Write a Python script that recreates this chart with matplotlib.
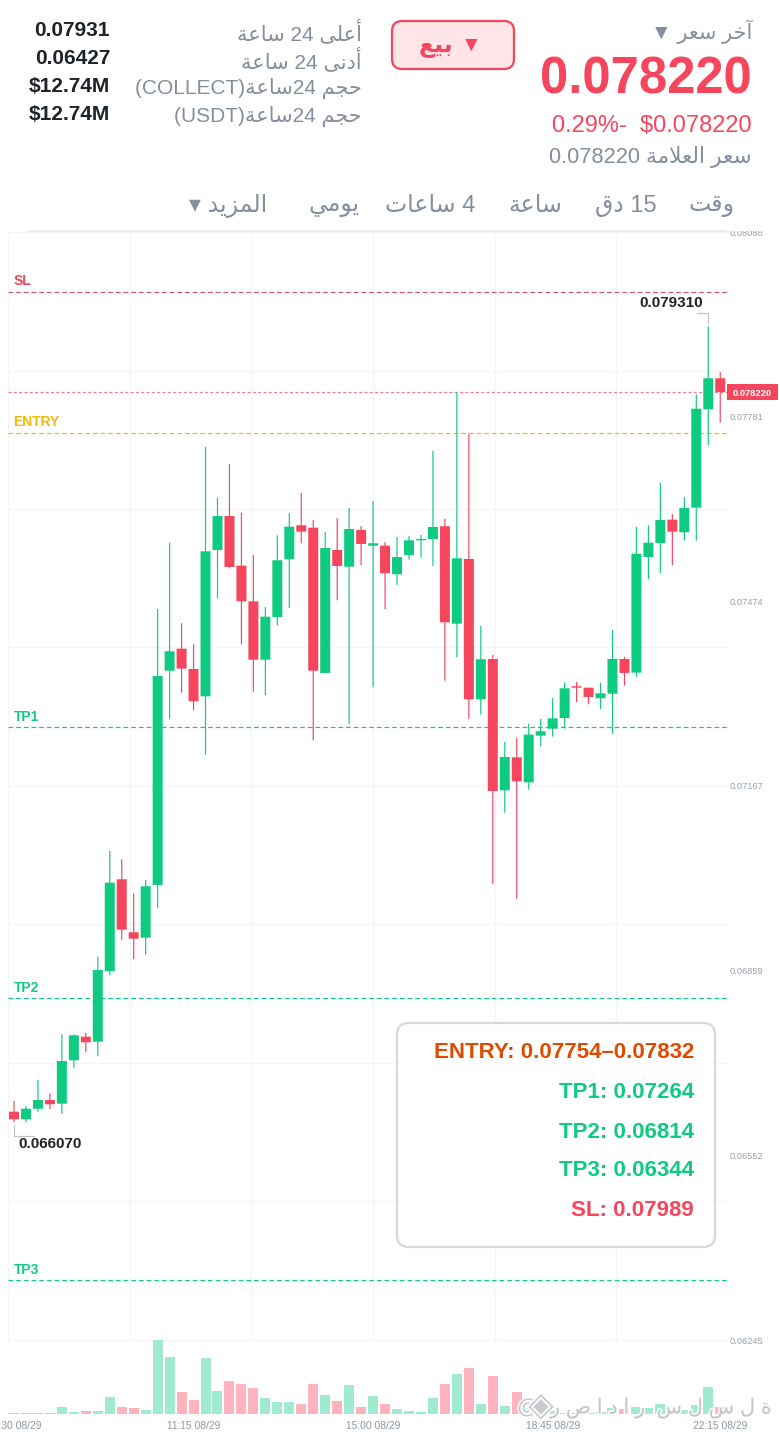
import re

import matplotlib
matplotlib.use("Agg")
import matplotlib.pyplot as plt
import matplotlib.patheffects as pe
from matplotlib.patches import FancyBboxPatch, Rectangle
from matplotlib.transforms import Bbox
import numpy as np

W, H = 780, 1432
GREEN = "#0ECB81"
RED = "#F6465D"
AMBER = "#F0B90B"
GREY = "#848E9C"
DARK = "#1E2329"
GRID = "#F4F5F6"

# 15 min candles, one value per candle
opens = [0.066248, 0.066121, 0.066297, 0.066442, 0.066381, 0.067102, 0.067495, 0.067412, 0.068583, 0.070113,
         0.069232, 0.069142, 0.070019, 0.073583, 0.073949, 0.073611, 0.073157, 0.075591, 0.076156, 0.075330,
         0.074737, 0.073766, 0.074476, 0.075436, 0.076002, 0.075962, 0.073545, 0.075591, 0.075313, 0.075924,
         0.075662, 0.075662, 0.075187, 0.075508, 0.075752, 0.075774, 0.075985, 0.074365, 0.075441, 0.073107,
         0.073778, 0.071594, 0.072143, 0.071727, 0.072502, 0.072618, 0.072796, 0.073324, 0.073300, 0.073124,
         0.073201, 0.073778, 0.073550, 0.075474, 0.075707, 0.076095, 0.075885, 0.076295, 0.077931, 0.078447]
highs = [0.066426, 0.066337, 0.066775, 0.066554, 0.067535, 0.067535, 0.067557, 0.068826, 0.070584, 0.070446,
         0.069880, 0.070102, 0.074610, 0.075712, 0.074372, 0.074022, 0.077304, 0.076461, 0.077021, 0.076211,
         0.075503, 0.074643, 0.075835, 0.076201, 0.076539, 0.076090, 0.075890, 0.076123, 0.076290, 0.075990,
         0.076406, 0.075724, 0.075807, 0.075824, 0.075840, 0.077243, 0.076112, 0.078220, 0.077520, 0.074327,
         0.073844, 0.072397, 0.072464, 0.072702, 0.072780, 0.073129, 0.073390, 0.073395, 0.073300, 0.073379,
         0.074260, 0.073811, 0.075978, 0.076002, 0.076710, 0.076185, 0.076473, 0.078181, 0.079310, 0.078552]
lows = [0.066070, 0.066071, 0.066248, 0.066292, 0.066214, 0.066970, 0.067236, 0.067169, 0.068521, 0.069104,
        0.068783, 0.068859, 0.069641, 0.072785, 0.073217, 0.072924, 0.072186, 0.074787, 0.075286, 0.074022,
        0.073234, 0.073174, 0.074332, 0.074626, 0.075702, 0.072425, 0.073545, 0.074754, 0.072697, 0.075336,
        0.073307, 0.074605, 0.075009, 0.075430, 0.075463, 0.075325, 0.073417, 0.073806, 0.072785, 0.072851,
        0.070040, 0.071221, 0.069791, 0.071604, 0.072331, 0.072485, 0.072618, 0.073062, 0.073024, 0.072946,
        0.072535, 0.073334, 0.073483, 0.075104, 0.075208, 0.075336, 0.075746, 0.075746, 0.077337, 0.077708]
closes = [0.066121, 0.066297, 0.066442, 0.066371, 0.067091, 0.067518, 0.067402, 0.068605, 0.070057, 0.069275,
          0.069125, 0.069997, 0.073495, 0.073906, 0.073617, 0.073074, 0.075569, 0.076156, 0.075308, 0.074737,
          0.073766, 0.074481, 0.075420, 0.075978, 0.075895, 0.073583, 0.075624, 0.075325, 0.075940, 0.075691,
          0.075702, 0.075203, 0.075474, 0.075752, 0.075774, 0.075973, 0.074388, 0.075453, 0.073107, 0.073773,
          0.071582, 0.072148, 0.071743, 0.072519, 0.072575, 0.072791, 0.073290, 0.073300, 0.073146, 0.073207,
          0.073778, 0.073545, 0.075529, 0.075712, 0.076090, 0.075895, 0.076290, 0.077941, 0.078447, 0.078220]
volumes = [1, 0.7, 1, 0.7, 6.7, 2, 2.7, 3.3, 17, 6.7, 6, 4, 74, 57, 22.3, 14, 56.3, 23, 33.3, 29.7,
           25.7, 16.3, 12, 11.7, 10, 30, 18.7, 12.7, 28.7, 6.7, 18, 10, 5, 3, 2, 16, 30, 39.7, 46, 10,
           37.7, 8.3, 21.7, 6, 4, 3, 1.3, 1, 1, 2, 5.7, 5, 6.7, 5.7, 10.3, 4, 4, 8.7, 26.7, 6.7]

price_ticks = [0.08088, 0.07781, 0.07474, 0.07167, 0.06859, 0.06552, 0.06245]
time_tick_index = [0, 15, 30, 45, 59]
time_tick_labels = ["07:30 08/29", "11:15 08/29", "15:00 08/29", "18:45 08/29", "22:15 08/29"]

level_names = ["SL", "ENTRY", "TP1", "TP2", "TP3"]
level_prices = [0.07989, 0.07754, 0.07264, 0.06814, 0.06344]
level_colors = ["#C4566A", AMBER, GREEN, GREEN, GREEN]
last_price = 0.078220
high_price = 0.079310
low_price = 0.066070

box_lines = ["ENTRY: 0.07754–0.07832", "TP1: 0.07264", "TP2: 0.06814", "TP3: 0.06344", "SL: 0.07989"]
box_colors = ["#E04A00", GREEN, GREEN, GREEN, RED]

stat_labels = ["أعلى 24 ساعة", "أدنى 24 ساعة", "حجم 24ساعة(COLLECT)", "حجم 24ساعة(USDT)"]
stat_values = ["0.07931", "0.06427", "$12.74M", "$12.74M"]
tab_labels = ["وقت", "15 دق", "ساعة", "4 ساعات", "يومي"]

# matplotlib has no Arabic shaping, so pick the presentation forms by hand
FORMS = {
    "ا": "\uFE8D\uFE8E", "أ": "\uFE83\uFE84", "آ": "\uFE81\uFE82", "د": "\uFEA9\uFEAA", "ر": "\uFEAD\uFEAE",
    "ز": "\uFEAF\uFEB0", "و": "\uFEED\uFEEE", "ة": "\uFE93\uFE94", "ى": "\uFEEF\uFEF0",
    "ب": "\uFE8F\uFE90\uFE91\uFE92", "ت": "\uFE95\uFE96\uFE97\uFE98", "ج": "\uFE9D\uFE9E\uFE9F\uFEA0",
    "ح": "\uFEA1\uFEA2\uFEA3\uFEA4", "خ": "\uFEA5\uFEA6\uFEA7\uFEA8", "س": "\uFEB1\uFEB2\uFEB3\uFEB4",
    "ص": "\uFEB9\uFEBA\uFEBB\uFEBC", "ع": "\uFEC9\uFECA\uFECB\uFECC", "ق": "\uFED5\uFED6\uFED7\uFED8",
    "ل": "\uFEDD\uFEDE\uFEDF\uFEE0", "م": "\uFEE1\uFEE2\uFEE3\uFEE4", "ن": "\uFEE5\uFEE6\uFEE7\uFEE8",
    "ي": "\uFEF1\uFEF2\uFEF3\uFEF4",
}
LETTERS = "".join(FORMS)


def shape(word):
    out = []
    i = 0
    joined = False
    while i < len(word):
        c = word[i]
        if c == "ل" and i + 1 < len(word) and word[i + 1] in "اأ":
            lig = {"ا": "\uFEFB\uFEFC", "أ": "\uFEF7\uFEF8"}[word[i + 1]]
            out.append(lig[1 if joined else 0])
            joined = False
            i += 2
            continue
        f = FORMS[c]
        next_ok = i + 1 < len(word) and len(f) == 4
        if joined and next_ok:
            g = f[3]
        elif next_ok:
            g = f[2]
        elif joined:
            g = f[1]
        else:
            g = f[0]
        out.append(g)
        joined = len(f) == 4 and i + 1 < len(word)
        i += 1
    return "".join(reversed(out))


def rtl(text):
    parts = []
    for tok in re.findall("[" + LETTERS + "]+|[^" + LETTERS + "]+", text):
        if tok[0] in FORMS:
            parts.append(shape(tok))
        else:
            lead = tok[:len(tok) - len(tok.lstrip())]
            trail = tok[len(tok.rstrip()):] if tok.strip() else ""
            parts.append(trail + tok.strip() + lead)
    return "".join(reversed(parts))


plt.rcParams["font.family"] = ["Liberation Sans", "DejaVu Sans"]

fig = plt.figure(figsize=(W / 100, H / 100), dpi=100)


def axes_px(x0, y0, x1, y1):
    return fig.add_axes([x0 / W, 1 - y1 / H, (x1 - x0) / W, (y1 - y0) / H])


def txt(x, y, s, size, color=GREY, ha="right", weight="normal", **kw):
    return fig.text(x / W, 1 - y / H, s, fontsize=size, color=color, ha=ha, va="center", fontweight=weight, **kw)


# candle x pixel = 14 + 11.97 * index
step = 11.97
xlim = ((8 - 14) / step, (727 - 14) / step)
idx = np.arange(len(opens))
o, h, l, c = map(np.array, (opens, highs, lows, closes))
up = c >= o
colors = np.where(up, GREEN, RED)

ax = axes_px(8, 232, 727, 1340)
ax.set_xlim(xlim)
ax.set_ylim(price_ticks[-1], price_ticks[0])
for s in ax.spines.values():
    s.set_visible(False)
ax.set_xticks([])
ax.set_yticks([])
for gy in np.linspace(price_ticks[-1], price_ticks[0], 9):
    ax.axhline(gy, color=GRID, lw=0.9, zorder=1, clip_on=False)
for k in range(6):
    ax.axvline((8 + k * 121.7 - 14) / step, color=GRID, lw=0.9, zorder=1)

for p, col in zip(level_prices, level_colors):
    ax.axhline(p, color=col, lw=0.85, ls=(0, (4, 2.5)), zorder=2)
ax.axhline(last_price, color="#F2788A", lw=0.85, ls=(0, (2.5, 2)), zorder=2)

wicks = ax.vlines(idx, l, h, colors=colors, lw=0.85, zorder=3)
wicks.set_snap(False)
bars = ax.bar(idx, np.abs(c - o), bottom=np.minimum(o, c), width=10 / step, color=colors, lw=0, zorder=4)
for b in bars:
    b.set_snap(False)

for name, p, col in zip(level_names, level_prices, level_colors):
    tc = RED if name == "SL" else col
    ax.annotate(name, (0, p), xycoords=("axes fraction", "data"), xytext=(4, 2.4), textcoords="offset points",
                fontsize=10, fontweight="bold", color=tc, va="bottom", ha="left", zorder=5)

# high and low markers
ax.plot([58 - 0.9, 58, 58], [high_price + 0.00023, high_price + 0.00023, high_price + 0.00005], color="#BFC3C8",
        lw=0.85, zorder=5, clip_on=False)
ax.annotate(f"{high_price:.6f}", (58, high_price), xytext=(-3.6, 17), textcoords="offset points", fontsize=11,
            fontweight="bold", color=DARK, ha="right", va="center", zorder=5, annotation_clip=False)
ax.plot([0, 0, 1.67], [low_price - 0.00005, low_price - 0.00023, low_price - 0.00023], color="#BFC3C8",
        lw=0.85, zorder=5)
ax.annotate(f"{low_price:.6f}", (0, low_price), xytext=(3, -15.5), textcoords="offset points", fontsize=11,
            fontweight="bold", color=DARK, ha="left", va="center", zorder=5)

# signal box
box = FancyBboxPatch((397 + 12, H - 1247 + 12), 318 - 24, 224 - 24, boxstyle="round,pad=12,rounding_size=12",
                     fc="white", ec="#D6D9DD", lw=1.6, transform=None, zorder=6)
fig.add_artist(box)
for yy, s, col in zip([1053, 1093, 1133, 1171, 1211], box_lines, box_colors):
    txt(694, yy, s, 16, col, weight="bold", zorder=7)

# volume panel
vax = axes_px(8, 1340, 727, 1414)
vax.set_xlim(xlim)
vax.set_ylim(0, max(volumes))
vax.axis("off")
vax.bar(idx, volumes, width=10 / step, color=np.where(up, "#A0EBCF", "#FFB3BE"), lw=0)

# price axis on the right
for p in price_ticks:
    yy = 1340 - (p - price_ticks[-1]) / (price_ticks[0] - price_ticks[-1]) * 1108
    t = txt(730, yy + 1, f"{p:.5f}", 6.7, "#9AA1AB", ha="left")
    t.set_clip_box(Bbox([[727, H - 1345], [780, H - 231]]))
    t.set_clip_on(True)
fig.add_artist(Rectangle((727, H - 400), 51, 16, transform=None, fc=RED, ec="none", zorder=6))
txt(752.5, 393, f"{last_price:.6f}", 6.7, "white", ha="center", weight="bold", zorder=7)

for i, s in zip(time_tick_index, time_tick_labels):
    txt(14 + step * i, 1426, s, 7.4, "#8F96A1", ha="center")

# watermark
wm = txt(772, 1408, "@ا ر ص ا د ا ر  س ل س ل ة", 15, "#B9BCC2", alpha=0.85, zorder=8)
wm.set_path_effects([pe.withStroke(linewidth=2.5, foreground="white")])
dm = txt(541, 1407, "◈", 24, "#C8CACE", ha="center", zorder=8)
dm.set_path_effects([pe.withStroke(linewidth=2.5, foreground="white")])

# header
fig.add_artist(Rectangle((28, H - 232), 699, 2, transform=None, fc="#EAECEF", ec="none"))

txt(752, 32, "▼ " + rtl("آخر سعر"), 15)
txt(752, 80, f"{last_price:.6f}", 36.5, RED, weight="bold")
txt(752, 126, "0.29%-  $0.078220", 17, RED)
txt(752, 157, "0.078220 " + rtl("سعر العلامة"), 15.7)

btn = FancyBboxPatch((392 + 10, H - 69 + 10), 122 - 20, 48 - 20, boxstyle="round,pad=10,rounding_size=10",
                     fc="#FFE4E8", ec=RED, lw=1.6, transform=None)
fig.add_artist(btn)
txt(436, 46, rtl("بيع"), 17, RED, ha="center", weight="bold")
txt(471, 45, "▼", 15, RED, ha="center")

for yy, lab, val in zip([32, 60, 88, 116], stat_labels, stat_values):
    txt(362, yy, rtl(lab), 15)
    txt(110, yy - 1, val, 15, DARK, weight="bold")

for xx, lab in zip([712, 626, 535, 430, 334], tab_labels):
    txt(xx, 206, rtl(lab), 17, ha="center")
txt(228, 206, "▾ " + rtl("المزيد"), 17, ha="center")

fig.savefig("out.png", dpi=100)
